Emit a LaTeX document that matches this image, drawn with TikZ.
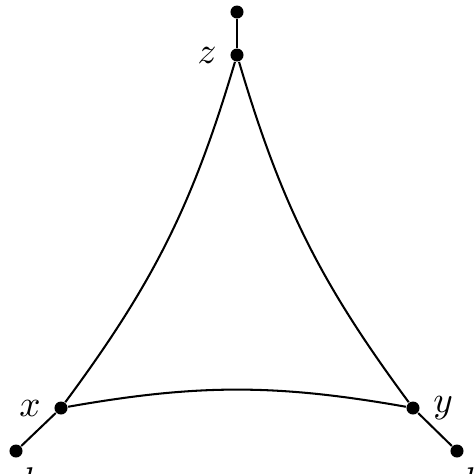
\documentclass[tikz,border=0pt]{standalone}
\begin{document}
\begin{tikzpicture}[x=0.269pt,y=-0.269pt,
  dot/.style={circle,fill=black,inner sep=0pt,minimum size=3.5pt},
  edge/.style={line width=0.55pt}]
\useasboundingbox (0,0) rectangle (474,474);
\node[dot] (zo) at (237,12) {};
\node[dot,label=left:{$z$}] (z) at (237,55) {};
\node[dot,label=left:{$x$}] (x) at (61,408) {};
\node[dot,label=right:{$y$}] (y) at (413,408) {};
\node[dot] (xo) at (16,451) {};
\node[dot] (yo) at (457,451) {};
\node[anchor=north,inner sep=0pt] (dl) at (23,467) {$d$};
\node[anchor=north,inner sep=0pt] (dr) at (464,467) {$d$};
\draw[edge] (zo) -- (z);
\draw[edge] (x) -- (xo);
\draw[edge] (y) -- (yo);
\draw[edge] (z) to[bend left=10] (x);
\draw[edge] (x) to[bend left=10] (y);
\draw[edge] (y) to[bend left=10] (z);
\end{tikzpicture}
\end{document}
